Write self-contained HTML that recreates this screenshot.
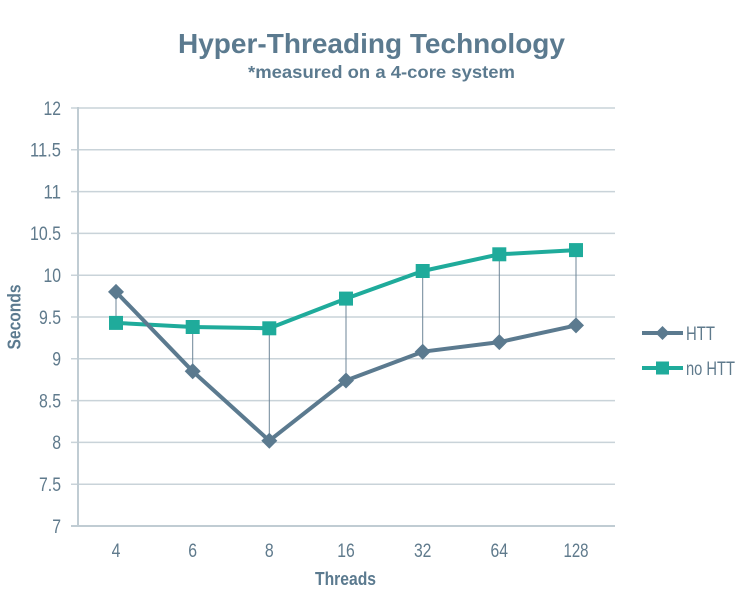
<!DOCTYPE html>
<html><head><meta charset="utf-8"><style>
html,body{margin:0;padding:0;background:#fff;}
svg{display:block;}
text{font-family:"Liberation Sans",Arial,sans-serif;}
</style></head><body>
<svg width="747" height="600" viewBox="0 0 747 600" xmlns="http://www.w3.org/2000/svg">
<rect width="747" height="600" fill="#fff"/>
<text x="371.5" y="53" text-anchor="middle" font-size="28" font-weight="bold" fill="#5b7a8f" textLength="387" lengthAdjust="spacingAndGlyphs">Hyper-Threading Technology</text>
<text x="381.5" y="78" text-anchor="middle" font-size="17.5" font-weight="bold" fill="#5b7a8f" textLength="267" lengthAdjust="spacingAndGlyphs">*measured on a 4-core system</text>
<g stroke="#c9d3d9" stroke-width="1.5">
<line x1="71" y1="108" x2="615" y2="108"/>
<line x1="71" y1="149.8" x2="615" y2="149.8"/>
<line x1="71" y1="191.6" x2="615" y2="191.6"/>
<line x1="71" y1="233.4" x2="615" y2="233.4"/>
<line x1="71" y1="275.2" x2="615" y2="275.2"/>
<line x1="71" y1="317" x2="615" y2="317"/>
<line x1="71" y1="358.8" x2="615" y2="358.8"/>
<line x1="71" y1="400.6" x2="615" y2="400.6"/>
<line x1="71" y1="442.4" x2="615" y2="442.4"/>
<line x1="71" y1="484.2" x2="615" y2="484.2"/>
</g>
<line x1="71" y1="526" x2="615" y2="526" stroke="#c0ccd3" stroke-width="2"/>
<line x1="78" y1="107" x2="78" y2="527" stroke="#c0ccd3" stroke-width="2"/>
<g font-size="19" fill="#5f7a8c" text-anchor="end">
<text x="61" y="114.8" textLength="17.5" lengthAdjust="spacingAndGlyphs">12</text>
<text x="61" y="156.6" textLength="31" lengthAdjust="spacingAndGlyphs">11.5</text>
<text x="61" y="198.4" textLength="17.5" lengthAdjust="spacingAndGlyphs">11</text>
<text x="61" y="240.2" textLength="31" lengthAdjust="spacingAndGlyphs">10.5</text>
<text x="61" y="282" textLength="17.5" lengthAdjust="spacingAndGlyphs">10</text>
<text x="61" y="323.8" textLength="22" lengthAdjust="spacingAndGlyphs">9.5</text>
<text x="61" y="365.6" textLength="8.8" lengthAdjust="spacingAndGlyphs">9</text>
<text x="61" y="407.4" textLength="22" lengthAdjust="spacingAndGlyphs">8.5</text>
<text x="61" y="449.2" textLength="8.8" lengthAdjust="spacingAndGlyphs">8</text>
<text x="61" y="491" textLength="22" lengthAdjust="spacingAndGlyphs">7.5</text>
<text x="61" y="532.8" textLength="8.8" lengthAdjust="spacingAndGlyphs">7</text>
</g>
<g font-size="19" fill="#5f7a8c" text-anchor="middle">
<text x="116" y="557" textLength="8.8" lengthAdjust="spacingAndGlyphs">4</text>
<text x="192.7" y="557" textLength="8.8" lengthAdjust="spacingAndGlyphs">6</text>
<text x="269.3" y="557" textLength="8.8" lengthAdjust="spacingAndGlyphs">8</text>
<text x="346" y="557" textLength="17.5" lengthAdjust="spacingAndGlyphs">16</text>
<text x="422.7" y="557" textLength="17.5" lengthAdjust="spacingAndGlyphs">32</text>
<text x="499.3" y="557" textLength="17.5" lengthAdjust="spacingAndGlyphs">64</text>
<text x="576" y="557" textLength="25" lengthAdjust="spacingAndGlyphs">128</text>
</g>
<text x="345.5" y="585" text-anchor="middle" font-size="18" font-weight="bold" fill="#5b7a8f" textLength="61" lengthAdjust="spacingAndGlyphs">Threads</text>
<text transform="translate(20.5,317) rotate(-90)" text-anchor="middle" font-size="18" font-weight="bold" fill="#5b7a8f" textLength="65" lengthAdjust="spacingAndGlyphs">Seconds</text>
<g stroke="#6d8597" stroke-width="1">
<line x1="116" y1="291.9" x2="116" y2="322.9"/>
<line x1="192.7" y1="327" x2="192.7" y2="371.3"/>
<line x1="269.3" y1="328.3" x2="269.3" y2="440.7"/>
<line x1="346" y1="298.6" x2="346" y2="380.5"/>
<line x1="422.7" y1="271" x2="422.7" y2="351.7"/>
<line x1="499.3" y1="254.3" x2="499.3" y2="342.1"/>
<line x1="576" y1="250.1" x2="576" y2="325.4"/>
</g>
<polyline fill="none" stroke="#1fab9b" stroke-width="4" stroke-linejoin="round" points="116,322.9 192.7,327 269.3,328.3 346,298.6 422.7,271 499.3,254.3 576,250.1"/>
<g fill="#1fab9b">
<rect x="109" y="315.9" width="14" height="14"/>
<rect x="185.7" y="320" width="14" height="14"/>
<rect x="262.3" y="321.3" width="14" height="14"/>
<rect x="339" y="291.6" width="14" height="14"/>
<rect x="415.7" y="264" width="14" height="14"/>
<rect x="492.3" y="247.3" width="14" height="14"/>
<rect x="569" y="243.1" width="14" height="14"/>
</g>
<polyline fill="none" stroke="#5b7a8f" stroke-width="4" stroke-linejoin="round" points="116,291.9 192.7,371.3 269.3,440.7 346,380.5 422.7,351.7 499.3,342.1 576,325.4"/>
<g fill="#5b7a8f">
<path d="M116 283.9 L124 291.9 L116 299.9 L108 291.9Z"/>
<path d="M192.7 363.3 L200.7 371.3 L192.7 379.3 L184.7 371.3Z"/>
<path d="M269.3 432.7 L277.3 440.7 L269.3 448.7 L261.3 440.7Z"/>
<path d="M346 372.5 L354 380.5 L346 388.5 L338 380.5Z"/>
<path d="M422.7 343.7 L430.7 351.7 L422.7 359.7 L414.7 351.7Z"/>
<path d="M499.3 334.1 L507.3 342.1 L499.3 350.1 L491.3 342.1Z"/>
<path d="M576 317.4 L584 325.4 L576 333.4 L568 325.4Z"/>
</g>
<line x1="642" y1="333" x2="683" y2="333" stroke="#5b7a8f" stroke-width="4"/>
<path d="M662.5 326 L669.5 333 L662.5 340 L655.5 333Z" fill="#5b7a8f"/>
<text x="686" y="340" font-size="19" fill="#5f7a8c" textLength="29" lengthAdjust="spacingAndGlyphs">HTT</text>
<line x1="642" y1="368" x2="683" y2="368" stroke="#1fab9b" stroke-width="4"/>
<rect x="656" y="361.5" width="13" height="13" fill="#1fab9b"/>
<text x="686" y="375" font-size="19" fill="#5f7a8c" textLength="49" lengthAdjust="spacingAndGlyphs">no HTT</text>
</svg>
</body></html>
